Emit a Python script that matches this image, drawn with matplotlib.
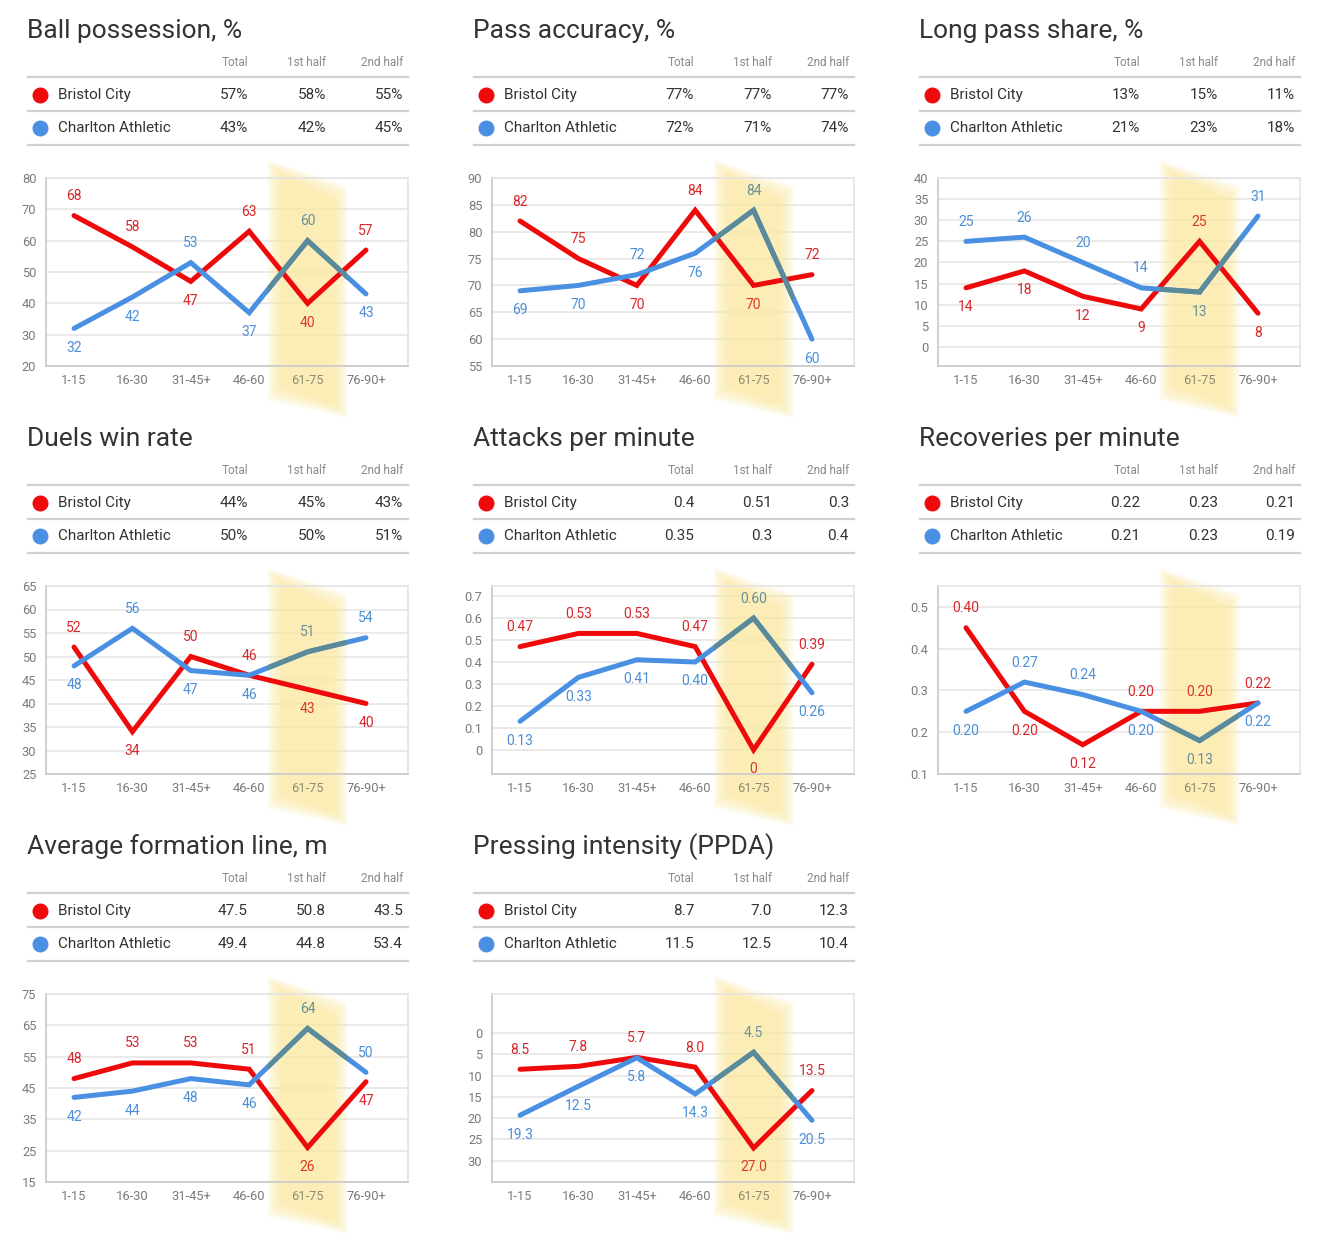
import matplotlib.pyplot as plt
from matplotlib.patches import Polygon, Rectangle
from matplotlib.lines import Line2D

plt.rcParams['font.family'] = ['Roboto', 'DejaVu Sans']

W, H = 1322, 1243  # picture size in pixels

# categories and table headings
periods = ['1-15', '16-30', '31-45+', '46-60', '61-75', '76-90+']
teams = ['Bristol City', 'Charlton Athletic']
columns = ['Total', '1st half', '2nd half']

# Ball possession, %
poss_table = [['57%', '58%', '55%'], ['43%', '42%', '45%']]
poss_red = [68, 58, 47, 63, 40, 57]
poss_blue = [32, 42, 53, 37, 60, 43]

# Pass accuracy, %
acc_table = [['77%', '77%', '77%'], ['72%', '71%', '74%']]
acc_red = [82, 75, 70, 84, 70, 72]
acc_blue = [69, 70, 72, 76, 84, 60]

# Long pass share, %
long_table = [['13%', '15%', '11%'], ['21%', '23%', '18%']]
long_red = [14, 18, 12, 9, 25, 8]
long_blue = [25, 26, 20, 14, 13, 31]

# Duels win rate
duel_table = [['44%', '45%', '43%'], ['50%', '50%', '51%']]
duel_red = [52, 34, 50, 46, 43, 40]
duel_blue = [48, 56, 47, 46, 51, 54]

# Attacks per minute
att_table = [['0.4', '0.51', '0.3'], ['0.35', '0.3', '0.4']]
att_red = [0.47, 0.53, 0.53, 0.47, 0.0, 0.39]
att_blue = [0.13, 0.33, 0.41, 0.40, 0.60, 0.26]

# Recoveries per minute (labels and drawn line differ in the original)
rec_table = [['0.22', '0.23', '0.21'], ['0.21', '0.23', '0.19']]
rec_red = [0.40, 0.20, 0.12, 0.20, 0.20, 0.22]
rec_blue = [0.20, 0.27, 0.24, 0.20, 0.13, 0.22]
rec_red_line = [0.45, 0.25, 0.17, 0.25, 0.25, 0.27]
rec_blue_line = [0.25, 0.32, 0.29, 0.25, 0.18, 0.27]

# Average formation line, m
form_table = [['47.5', '50.8', '43.5'], ['49.4', '44.8', '53.4']]
form_red = [48, 53, 53, 51, 26, 47]
form_blue = [42, 44, 48, 46, 64, 50]

# Pressing intensity (PPDA)
ppda_table = [['8.7', '7.0', '12.3'], ['11.5', '12.5', '10.4']]
ppda_red = [8.5, 7.8, 5.7, 8.0, 27.0, 13.5]
ppda_blue = [19.3, 12.5, 5.8, 14.3, 4.5, 20.5]


def f0(v):
    return f'{v:.0f}'


def f1(v):
    return f'{v:.1f}'


def f2(v):
    return '0' if v == 0 else f'{v:.2f}'


panels = [
    dict(title='Ball possession, %', table=poss_table, red=poss_red, blue=poss_blue,
         fmt=f0, ylim=(20, 80), yticks=range(20, 81, 10)),
    dict(title='Pass accuracy, %', table=acc_table, red=acc_red, blue=acc_blue,
         fmt=f0, ylim=(55, 90), yticks=range(55, 91, 5)),
    dict(title='Long pass share, %', table=long_table, red=long_red, blue=long_blue,
         fmt=f0, ylim=(-4.5, 40), yticks=range(0, 41, 5)),
    dict(title='Duels win rate', table=duel_table, red=duel_red, blue=duel_blue,
         fmt=f0, ylim=(25, 65), yticks=range(25, 66, 5)),
    dict(title='Attacks per minute', table=att_table, red=att_red, blue=att_blue,
         fmt=f2, ylim=(-0.11, 0.746), yticks=[0, 0.1, 0.2, 0.3, 0.4, 0.5, 0.6, 0.7]),
    dict(title='Recoveries per minute', table=rec_table, red=rec_red, blue=rec_blue,
         red_line=rec_red_line, blue_line=rec_blue_line,
         fmt=f2, ylim=(0.1, 0.55), yticks=[0.1, 0.2, 0.3, 0.4, 0.5]),
    dict(title='Average formation line, m', table=form_table, red=form_red, blue=form_blue,
         fmt=f0, ylim=(15, 75), yticks=range(15, 76, 10)),
    dict(title='Pressing intensity (PPDA)', table=ppda_table, red=ppda_red, blue=ppda_blue,
         fmt=f1, ylim=(35, -9.2), yticks=range(0, 31, 5)),
]

RED = '#ee0a0a'
BLUE = '#4a90e2'
RED_TXT = '#d8262a'
BLUE_TXT = '#4a8fd8'
TEAL = '#5b8a99'
BAND = '#fce89f'
XLIM = (-0.48, 5.72)

fig = plt.figure(figsize=(W / 100, H / 100), dpi=100)


def fx(x):
    return x / W


def fy(y):
    return 1 - y / H


for n, p in enumerate(panels):
    ox = [0, 446, 892][n % 3]
    oy = (n // 3) * 408

    # title and little table
    fig.text(fx(27 + ox), fy(31 + oy), p['title'], fontsize=19, color='#333333', va='center')
    colx = [248 + ox, 326 + ox, 403 + ox]
    for cx, name in zip(colx, columns):
        fig.text(fx(cx), fy(63 + oy), name, fontsize=8.5, color='#8a8a8a', ha='right', va='center')
    for ly in [77, 111, 145]:
        fig.add_artist(Line2D([fx(28 + ox), fx(408 + ox)], [fy(ly + oy)] * 2,
                              color='#d0d0d0', lw=1.6))
    for row, (team, col) in enumerate(zip(teams, [RED, BLUE])):
        ty = fy([95, 128][row] + oy)
        fig.add_artist(Line2D([fx(40 + ox)], [ty], marker='o', ms=10.5, color=col, lw=0))
        fig.text(fx(58 + ox), ty, team, fontsize=11, color='#333333', va='center')
        for cx, val in zip(colx, p['table'][row]):
            fig.text(fx(cx), ty, val, fontsize=11, color='#333333', ha='right', va='center')

    # chart
    ax = fig.add_axes([fx(46 + ox), fy(366 + oy), 362 / W, 188 / H])
    ax.set_facecolor('none')
    ax.set_xlim(*XLIM)
    ax.set_ylim(*p['ylim'])

    # highlighted 61-75 band (soft edged), above the grid, below the lines
    top, bot = 178 + oy, 366 + oy
    cx = 46 + ox + (4 - XLIM[0]) / (XLIM[1] - XLIM[0]) * 362
    for k in range(8):
        d = k * 2.0
        pts = [(cx - 40 + d, top - 18 + d), (cx + 40 - d, top + 8 + d),
               (cx + 40 - d, bot + 52 - d), (cx - 40 + d, bot + 34 - d)]
        ax.add_patch(Polygon([(fx(a), fy(b)) for a, b in pts], closed=True,
                             transform=fig.transFigure, clip_on=False,
                             facecolor=BAND, edgecolor='none', alpha=0.15, zorder=1))

    x = list(range(len(periods)))
    red_line = p.get('red_line', p['red'])
    blue_line = p.get('blue_line', p['blue'])
    ax.plot(x, red_line, color=RED, lw=3.6, solid_joinstyle='miter', solid_capstyle='round', zorder=3)
    ax.plot(x, blue_line, color=BLUE, lw=3.6, solid_joinstyle='miter', solid_capstyle='round', zorder=4)
    lo, hi = sorted(p['ylim'])
    clip = Rectangle((4 - 0.68, lo), 1.36, hi - lo, transform=ax.transData)
    teal, = ax.plot(x, blue_line, color=TEAL, lw=3.6, solid_joinstyle='miter',
                    solid_capstyle='round', zorder=5)
    teal.set_clip_path(clip)

    inv = p['ylim'][0] > p['ylim'][1]
    for i in x:
        r, b = red_line[i], blue_line[i]
        red_up = (r <= b) if inv else (r >= b)
        rc = '#dc3a22' if i == 4 else RED_TXT
        bc = '#6a9099' if i == 4 else BLUE_TXT
        ax.annotate(p['fmt'](p['red'][i]), (i, r), xytext=(0, 14 if red_up else -14),
                    textcoords='offset points', ha='center', va='center', fontsize=10, color=rc, zorder=6)
        ax.annotate(p['fmt'](p['blue'][i]), (i, b), xytext=(0, -14 if red_up else 14),
                    textcoords='offset points', ha='center', va='center', fontsize=10, color=bc, zorder=6)

    ax.set_xticks(x, periods)
    ax.set_yticks(list(p['yticks']), [f'{v:g}' for v in p['yticks']])
    ax.tick_params(length=0, labelsize=9.3, labelcolor='#7a7a7a')
    ax.tick_params(axis='y', pad=7)
    ax.tick_params(axis='x', pad=6)
    ax.yaxis.grid(True, color='#e6e6e6', lw=1.2)
    ax.set_axisbelow(True)
    ax.xaxis.set_zorder(2)  # period labels stay readable over the band
    ax.get_xticklabels()[4].set_color('#8e8b72')
    for s in ['left', 'bottom']:
        ax.spines[s].set_color('#cccccc')
        ax.spines[s].set_linewidth(1.3)
    for s in ['top', 'right']:
        ax.spines[s].set_color('#e4e4e4')
        ax.spines[s].set_linewidth(1.2)

fig.savefig('out.png', dpi=100, facecolor='white')
